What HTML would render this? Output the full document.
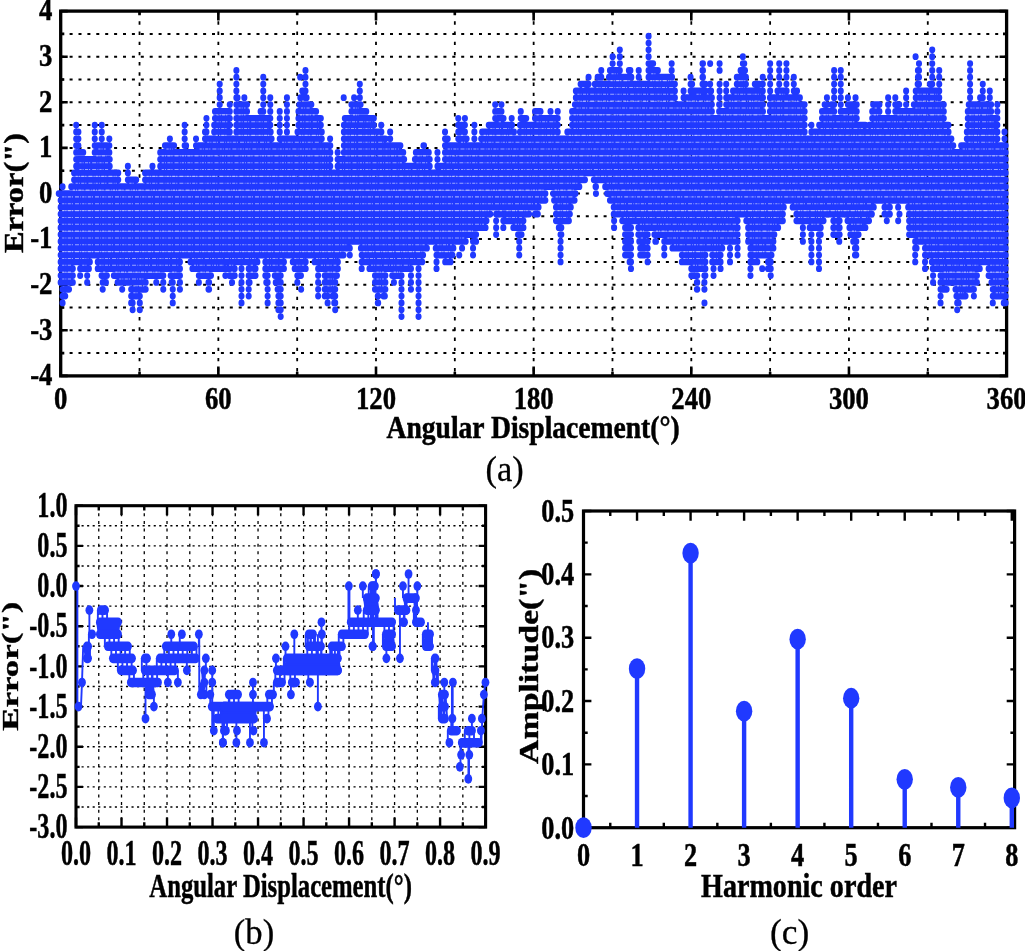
<!DOCTYPE html>
<html lang="en"><head><meta charset="utf-8"><title>Angular error figure</title>
<style>
html,body{margin:0;padding:0;background:#fff}
body{width:1025px;height:951px;overflow:hidden}
svg{display:block}
text{font-family:"Liberation Serif","DejaVu Serif",serif;fill:#000}
.tk,.tkb,.tkc,.tt{stroke:#000;stroke-width:0.5px}
.tk{font-size:31.6px;font-weight:bold}
.tkb{font-size:35px;font-weight:bold}
.tkc{font-size:33.5px;font-weight:bold}
.tt{font-size:31px;font-weight:bold}
.cap{font-size:34px;stroke:#000;stroke-width:0.3px}
</style></head><body>
<svg width="1025" height="951" viewBox="0 0 1025 951">
<rect width="1025" height="951" fill="#fff"/>
<g id="pa">
<path d="M60.7 353.1H1006.6M60.7 330.3H1006.6M60.7 307.5H1006.6M60.7 284.7H1006.6M60.7 261.9H1006.6M60.7 239.1H1006.6M60.7 216.3H1006.6M60.7 193.5H1006.6M60.7 170.7H1006.6M60.7 147.9H1006.6M60.7 125.1H1006.6M60.7 102.3H1006.6M60.7 79.5H1006.6M60.7 56.7H1006.6M60.7 33.9H1006.6" stroke="#000" stroke-width="2" stroke-dasharray="3 5.9" fill="none"/>
<path d="M139.53 11.1V375.9M218.35 11.1V375.9M297.18 11.1V375.9M376 11.1V375.9M454.82 11.1V375.9M533.65 11.1V375.9M612.48 11.1V375.9M691.3 11.1V375.9M770.12 11.1V375.9M848.95 11.1V375.9M927.78 11.1V375.9" stroke="#000" stroke-width="1.8" stroke-dasharray="3.4 6.8" fill="none"/>
<path d="M60.7 375.9h7M1006.6 375.9h-7M60.7 353.1h3.6M1006.6 353.1h-3.6M60.7 330.3h7M1006.6 330.3h-7M60.7 307.5h3.6M1006.6 307.5h-3.6M60.7 284.7h7M1006.6 284.7h-7M60.7 261.9h3.6M1006.6 261.9h-3.6M60.7 239.1h7M1006.6 239.1h-7M60.7 216.3h3.6M1006.6 216.3h-3.6M60.7 193.5h7M1006.6 193.5h-7M60.7 170.7h3.6M1006.6 170.7h-3.6M60.7 147.9h7M1006.6 147.9h-7M60.7 125.1h3.6M1006.6 125.1h-3.6M60.7 102.3h7M1006.6 102.3h-7M60.7 79.5h3.6M1006.6 79.5h-3.6M60.7 56.7h7M1006.6 56.7h-7M60.7 33.9h3.6M1006.6 33.9h-3.6M60.7 11.1h7M1006.6 11.1h-7M60.7 11.1v9.3M60.7 375.9v-9.3M139.53 11.1v4.2M139.53 375.9v-4.2M218.35 11.1v9.3M218.35 375.9v-9.3M297.18 11.1v4.2M297.18 375.9v-4.2M376 11.1v9.3M376 375.9v-9.3M454.82 11.1v4.2M454.82 375.9v-4.2M533.65 11.1v9.3M533.65 375.9v-9.3M612.48 11.1v4.2M612.48 375.9v-4.2M691.3 11.1v9.3M691.3 375.9v-9.3M770.12 11.1v4.2M770.12 375.9v-4.2M848.95 11.1v9.3M848.95 375.9v-9.3M927.78 11.1v4.2M927.78 375.9v-4.2M1006.6 11.1v9.3M1006.6 375.9v-9.3" stroke="#000" stroke-width="2.6" fill="none"/>
<rect x="60.7" y="11.1" width="945.9" height="364.8" fill="none" stroke="#000" stroke-width="3.3"/>
<path transform="scale(0.9 1)" d="M311.87 316.62h0.01M446.11 316.62h0.01M465.04 316.62h0.01M147.34 309.78h0.01M155.33 309.78h0.01M309.35 309.78h0.01M311.87 309.78h0.01M372.44 309.78h0.01M446.11 309.78h0.01M465.04 309.78h0.01M1063.57 309.78h0.01M69.52 302.94h0.01M145.76 302.94h0.01M147.34 302.94h0.01M155.33 302.94h0.01M191.93 302.94h0.01M268.33 302.94h0.01M297.36 302.94h0.01M309.35 302.94h0.01M311.87 302.94h0.01M364.03 302.94h0.01M371.39 302.94h0.01M372.44 302.94h0.01M419.82 302.94h0.36M446.11 302.94h0.01M465.04 302.94h0.01M782.74 302.94h0.01M1045.06 302.94h0.01M1063.57 302.94h0.01M1065.15 302.94h0.01M1103.11 302.94h0.01M1115.31 302.94h2.02M69.52 296.1h0.01M71.84 296.1h0.63M145.76 296.1h0.01M146.5 296.1h7.99M155.33 296.1h0.01M191.93 296.1h0.01M268.33 296.1h0.01M276.33 296.1h0.01M297.36 296.1h0.01M309.35 296.1h0.01M311.87 296.1h0.01M353.51 296.1h0.01M360.87 296.1h0.01M364.03 296.1h0.01M369.5 296.1h1.89M372.44 296.1h0.01M419.76 296.1h0.42M426.07 296.1h0.01M427.6 296.1h0.01M446.11 296.1h0.01M465.04 296.1h0.01M1045.06 296.1h0.01M1062.73 296.1h10.1M1082.08 296.1h0.01M1103.11 296.1h0.01M1104.79 296.1h12.54M69.52 289.26h0.01M71.84 289.26h4.84M114.11 289.26h0.01M135.77 289.26h0.01M145.76 289.26h0.01M146.5 289.26h15.35M181.41 289.26h0.01M191.93 289.26h0.01M199.92 289.26h0.01M231.68 289.26h0.63M268.33 289.26h0.01M276.33 289.26h0.01M297.36 289.26h0.01M308.5 289.26h1.68M311.87 289.26h0.01M334.58 289.26h0.01M353.51 289.26h0.01M360.87 289.26h0.01M362.14 289.26h10.31M416.67 289.26h11.51M446.11 289.26h0.01M456.63 289.26h0.01M465.04 289.26h0.01M774.33 289.26h0.36M782.68 289.26h0.06M1045.06 289.26h0.01M1046.96 289.26h4.84M1061.68 289.26h19.56M1082.08 289.26h0.01M1103.11 289.26h0.01M1104.79 289.26h12.54M67.42 282.42h13.46M96.87 282.42h0.01M114.11 282.42h0.01M116 282.42h1.68M130.73 282.42h31.13M173.63 282.42h0.01M181.41 282.42h0.01M190.67 282.42h0.63M191.93 282.42h0.01M199.92 282.42h0.01M220.95 282.42h0.01M231.68 282.42h0.63M257.82 282.42h0.01M268.33 282.42h0.01M276.33 282.42h0.01M277.27 282.42h0.01M295.89 282.42h0.63M297.36 282.42h0.01M306.4 282.42h4.84M311.87 282.42h0.01M330.38 282.42h0.01M353.51 282.42h0.01M360.87 282.42h0.01M362.14 282.42h10.31M416.67 282.42h11.51M437.7 282.42h0.01M446.11 282.42h0.01M456.63 282.42h0.01M465.04 282.42h0.01M774.33 282.42h0.36M782.68 282.42h0.01M1036.76 282.42h0.01M1045.06 282.42h0.01M1046.96 282.42h38.49M1101.64 282.42h15.69M67.42 275.58h13.46M89.08 275.58h0.01M96.87 275.58h0.01M112.85 275.58h5.89M126.52 275.58h53.21M181.41 275.58h0.01M189.62 275.58h9.04M199.92 275.58h0.01M220.95 275.58h13.46M250.4 275.58h0.01M254.87 275.58h5.89M268.33 275.58h0.01M276.33 275.58h0.01M276.96 275.58h6.94M294.83 275.58h1.68M297.36 275.58h0.01M305.35 275.58h5.89M311.87 275.58h0.01M330.38 275.58h4M353.51 275.58h0.01M360.87 275.58h0.01M362.14 275.58h12.2M416.67 275.58h11.51M435.81 275.58h10.31M456.63 275.58h0.01M465.04 275.58h0.01M768.17 275.58h2.73M772.22 275.58h0.01M774.33 275.58h0.36M782.68 275.58h1.05M792.83 275.58h0.01M833.85 275.58h0.01M856.35 275.58h0.01M1036.76 275.58h0.01M1045.06 275.58h0.01M1046.96 275.58h38.49M1098.48 275.58h18.85M67.42 268.74h13.46M89.08 268.74h0.01M89.71 268.74h9.04M108.64 268.74h91.28M213.8 268.74h36.6M252.77 268.74h7.99M268.33 268.74h0.01M276.33 268.74h0.01M276.96 268.74h6.94M294.83 268.74h20.61M327.43 268.74h12.2M353.51 268.74h0.01M354.77 268.74h20.61M401.89 268.74h0.01M410.51 268.74h46.12M465.04 268.74h0.01M485.02 268.74h0.01M701.08 268.74h0.01M768.17 268.74h15.56M792.83 268.74h0.01M800.62 268.74h0.01M833.85 268.74h0.01M846.89 268.74h0.01M853.41 268.74h2.94M909.98 268.74h0.01M1027.82 268.74h0.01M1036.44 268.74h52.16M1098.48 268.74h18.85M67.42 261.9h32.39M108.64 261.9h91.28M211.7 261.9h74.3M294.83 261.9h20.61M325.33 261.9h14.3M349.52 261.9h25.87M401.89 261.9h0.01M403.15 261.9h65.89M485.02 261.9h0.01M494.69 261.9h5.89M622.84 261.9h0.01M699.6 261.9h0.01M701.08 261.9h0.01M719.58 261.9h0.01M757.65 261.9h26.08M791.36 261.9h9.25M811.13 261.9h0.01M833.85 261.9h0.01M835.53 261.9h5.89M853.41 261.9h2.94M901.57 261.9h0.01M909.98 261.9h0.01M1016.88 261.9h0.01M1027.82 261.9h0.01M1035.39 261.9h81.94M67.42 255.06h314.27M388.64 255.06h0.01M401.89 255.06h68.2M485.02 255.06h0.01M486.28 255.06h16.4M510.26 255.06h0.01M525.61 255.06h0.01M576.93 255.06h0.01M622.84 255.06h0.01M694.56 255.06h5.05M701.08 255.06h0.01M711.38 255.06h4.84M719.58 255.06h0.01M738.09 255.06h0.01M757.65 255.06h26.08M791.36 255.06h9.25M811.13 255.06h0.01M819.54 255.06h0.01M833.85 255.06h0.01M835.53 255.06h21.66M901.57 255.06h0.01M909.98 255.06h0.01M950 255.06h0.01M951.41 255.06h0.01M1016.88 255.06h0.01M1027.82 255.06h89.52M67.42 248.22h320.58M388.64 248.22h0.01M401.04 248.22h73.25M484.18 248.22h19.56M513.41 248.22h0.01M525.61 248.22h0.01M576.93 248.22h0.01M622.84 248.22h0.01M694.56 248.22h5.05M701.08 248.22h0.01M711.38 248.22h4.84M719.58 248.22h0.01M738.09 248.22h0.01M747.14 248.22h55.37M811.13 248.22h0.01M819.54 248.22h0.01M833.85 248.22h0.01M835.53 248.22h23.77M901.57 248.22h0.01M909.98 248.22h0.01M950 248.22h0.01M951.41 248.22h0.01M1016.88 248.22h0.01M1018.35 248.22h0.01M1027.82 248.22h89.52M67.42 241.38h449.99M525.61 241.38h0.01M527.29 241.38h1.68M576.93 241.38h0.01M622.84 241.38h0.01M694.56 241.38h5.05M701.08 241.38h0.01M710.33 241.38h6.94M719.58 241.38h0.01M728.21 241.38h0.63M738.09 241.38h0.01M739.77 241.38h79.77M831.32 241.38h27.97M892.1 241.38h0.01M901.57 241.38h0.01M909.98 241.38h0.01M932.48 241.38h0.01M948.05 241.38h2.73M951.41 241.38h0.01M1016.88 241.38h0.01M1018.35 241.38h98.98M67.42 234.54h461.56M551.27 234.54h0.01M575.67 234.54h3.79M622.84 234.54h0.84M694.56 234.54h5.05M701.08 234.54h0.01M709.28 234.54h9.04M719.58 234.54h0.01M727.16 234.54h92.39M831.32 234.54h29.02M892.1 234.54h0.01M901.57 234.54h0.01M909.98 234.54h0.01M911.24 234.54h0.63M925.96 234.54h6.94M944.89 234.54h9.04M1010.15 234.54h107.18M67.42 227.7h472.07M551.27 227.7h0.01M559.26 227.7h0.01M570.41 227.7h11.15M620.94 227.7h2.73M682.36 227.7h0.01M694.56 227.7h5.05M701.08 227.7h0.01M709.28 227.7h110.27M831.32 227.7h33.23M892.1 227.7h0.01M899.68 227.7h12.2M925.96 227.7h6.94M943.84 227.7h17.67M1010.15 227.7h107.18M67.42 220.86h473.12M551.27 220.86h0.01M559.26 220.86h0.01M560.94 220.86h20.61M617.79 220.86h14.3M682.36 220.86h0.01M691.4 220.86h128.14M829.22 220.86h40.59M884.95 220.86h30.08M925.96 220.86h6.94M941.74 220.86h23.82M985.33 220.86h0.01M997.95 220.86h0.01M1010.15 220.86h107.18M67.42 214.02h477.33M551.27 214.02h0.01M553.58 214.02h5.89M560.94 214.02h26.92M594.44 214.02h1.89M597.54 214.02h0.01M617.79 214.02h15.35M681.94 214.02h187.87M884.95 214.02h83.77M982.81 214.02h5.89M999.42 214.02h0.01M1010.15 214.02h107.18M67.42 207.18h530.96M617.79 207.18h16.4M681.94 207.18h188.92M880.75 207.18h90.08M982.81 207.18h5.89M997.95 207.18h0.01M1009.1 207.18h108.23M67.42 200.34h538.53M615.69 200.34h22.71M677.73 200.34h439.6M65.32 193.5h540.64M614.63 193.5h24.82M662.17 193.5h0.01M674.58 193.5h442.76M69.52 186.66h0.01M79.2 186.66h564.46M661.75 186.66h0.42M672.47 186.66h444.86M82.35 179.82h49M142.08 179.82h9.25M161.22 179.82h488.75M659.85 179.82h457.48M82.35 172.98h49M142.08 172.98h0.01M161.22 172.98h956.11M84.67 166.14h0.01M86.56 166.14h35.33M142.08 166.14h0.01M169.42 166.14h0.01M178.05 166.14h188.92M375.18 166.14h0.01M375.81 166.14h101.64M486.07 166.14h0.01M488.39 166.14h628.95M84.67 159.3h0.01M86.56 159.3h35.33M178.05 159.3h188.92M375.18 159.3h0.01M375.81 159.3h73.25M461.04 159.3h16.4M486.07 159.3h0.01M494.48 159.3h622.85M84.67 152.46h0.01M86.98 152.46h5.47M105.28 152.46h14.51M121.47 152.46h0.01M178.05 152.46h188.92M375.18 152.46h0.01M382.12 152.46h65.89M462.1 152.46h14.3M486.07 152.46h0.01M494.48 152.46h622.85M84.67 145.62h0.01M87.09 145.62h0.01M105.28 145.62h0.01M107.59 145.62h11.57M121.47 145.62h0.01M183.31 145.62h10.1M205.18 145.62h0.01M206.76 145.62h0.01M217.8 145.62h0.01M220.11 145.62h146.86M382.12 145.62h62.73M470.51 145.62h0.63M494.48 145.62h0.01M495.75 145.62h563.41M1067.99 145.62h49.34M84.67 138.78h0.01M87.09 138.78h0.01M105.28 138.78h0.01M113.06 138.78h0.01M121.47 138.78h0.01M188.77 138.78h0.01M205.18 138.78h0.01M217.8 138.78h0.01M227.79 138.78h0.01M228.52 138.78h73.25M310.82 138.78h0.01M311.66 138.78h45.85M366.76 138.78h0.01M382.12 138.78h46.06M433.49 138.78h0.01M494.48 138.78h0.01M495.75 138.78h1.68M509.21 138.78h0.01M510.47 138.78h7.99M527.08 138.78h0.01M534.66 138.78h522.4M1074.3 138.78h33.23M1108.16 138.78h0.01M1116.15 138.78h0.01M84.67 131.94h0.01M87.09 131.94h0.01M105.28 131.94h0.01M113.06 131.94h0.01M205.18 131.94h0.01M227.79 131.94h0.01M229.37 131.94h0.01M237.99 131.94h16.67M255.29 131.94h0.01M262.65 131.94h0.01M263.29 131.94h37.44M310.82 131.94h0.01M318.81 131.94h0.01M330.59 131.94h26.92M382.12 131.94h41.64M433.49 131.94h0.01M494.48 131.94h0.01M509.21 131.94h0.01M510.47 131.94h6.1M527.08 131.94h0.01M535.71 131.94h35.33M577.77 131.94h41.91M630.41 131.94h263.59M901.57 131.94h152.33M1074.3 131.94h33.23M1108.16 131.94h0.01M1116.15 131.94h0.01M84.67 125.1h0.01M105.28 125.1h0.01M113.06 125.1h0.01M205.18 125.1h0.01M229.37 125.1h0.01M237.99 125.1h16.67M255.29 125.1h0.01M262.65 125.1h0.01M263.29 125.1h36.39M300.3 125.1h0.01M310.82 125.1h0.01M318.81 125.1h0.01M331.64 125.1h24.82M382.12 125.1h33.23M423.55 125.1h0.06M509.21 125.1h0.01M510.47 125.1h4.84M516.57 125.1h0.01M527.08 125.1h0.01M543.07 125.1h25.87M577.77 125.1h41.91M635.67 125.1h258.33M901.57 125.1h0.01M910.19 125.1h51.32M965.98 125.1h87.91M1075.35 125.1h31.13M1108.16 125.1h0.01M229.37 118.26h0.01M238.89 118.26h15.77M255.29 118.26h0.01M262.65 118.26h0.01M263.29 118.26h36.39M300.3 118.26h0.01M310.82 118.26h0.01M318.81 118.26h0.01M331.64 118.26h24.82M383.17 118.26h32.18M509.21 118.26h0.01M516.57 118.26h0.01M550.22 118.26h0.01M552.53 118.26h6.94M568.52 118.26h0.01M578.61 118.26h0.01M579.87 118.26h4.84M594.44 118.26h25.24M635.67 118.26h258.33M913.35 118.26h38.55M969.14 118.26h79.5M1075.35 118.26h31.13M1108.16 118.26h0.01M238.89 111.42h15.56M255.29 111.42h0.01M262.65 111.42h0.01M263.29 111.42h11.15M289.58 111.42h2.94M300.3 111.42h0.01M310.82 111.42h0.01M318.81 111.42h0.01M331.64 111.42h19.56M390.53 111.42h10.1M402.1 111.42h4.84M550.22 111.42h0.01M552.53 111.42h2.73M557.16 111.42h0.01M578.61 111.42h0.01M594.44 111.42h6.1M611.69 111.42h0.01M619.68 111.42h0.01M635.67 111.42h155.27M799.04 111.42h48.69M855.51 111.42h38.49M913.35 111.42h13.46M934.17 111.42h0.01M935.43 111.42h16.46M969.14 111.42h7.99M986.81 111.42h0.01M994.8 111.42h0.01M995.43 111.42h53.21M1075.35 111.42h25.87M1108.16 111.42h0.01M244.09 104.58h0.06M255.29 104.58h0.01M262.65 104.58h0.01M263.29 104.58h11.15M292.52 104.58h0.01M300.3 104.58h0.01M318.81 104.58h0.01M332.69 104.58h13.25M390.53 104.58h10.1M550.22 104.58h0.01M557.16 104.58h0.01M638.82 104.58h152.12M799.04 104.58h0.53M806.92 104.58h0.01M808.19 104.58h39.54M855.51 104.58h38.49M916.29 104.58h0.01M918.81 104.58h0.01M923.86 104.58h2.94M934.17 104.58h0.01M942.16 104.58h0.01M943.84 104.58h4.84M950 104.58h1.89M970.19 104.58h6.94M986.81 104.58h0.01M994.8 104.58h0.01M995.43 104.58h3.79M1006.79 104.58h0.01M1015.41 104.58h33.23M1076.4 104.58h24.82M1108.16 104.58h0.01M244.09 97.74h0.06M262.65 97.74h0.01M263.92 97.74h0.01M271.49 97.74h0.01M292.52 97.74h0.01M300.3 97.74h0.01M318.81 97.74h0.01M333.74 97.74h6.94M381.91 97.74h0.01M393.47 97.74h0.01M399.78 97.74h0.01M639.87 97.74h110M759.54 97.74h0.01M760.81 97.74h30.13M799.56 97.74h0.01M806.92 97.74h0.01M808.19 97.74h39.54M855.51 97.74h33.23M918.81 97.74h0.01M926.81 97.74h0.01M934.17 97.74h0.01M942.16 97.74h0.01M950.57 97.74h0.06M986.81 97.74h0.01M994.8 97.74h0.01M1006.79 97.74h0.01M1017.51 97.74h26.08M1077.87 97.74h0.01M1089.02 97.74h1.68M1091.96 97.74h0.01M1099.75 97.74h0.01M244.09 90.9h0.06M262.65 90.9h0.01M292.52 90.9h0.01M335.85 90.9h1.68M339.42 90.9h0.01M399.78 90.9h0.01M639.87 90.9h110M759.54 90.9h0.01M767.33 90.9h0.01M769.01 90.9h1.89M772.22 90.9h8.83M781.84 90.9h1.89M789.05 90.9h0.01M790.1 90.9h0.01M799.56 90.9h0.01M806.92 90.9h0.01M814.5 90.9h32.18M847.52 90.9h0.01M855.72 90.9h0.01M863.92 90.9h10.1M882.01 90.9h0.01M882.85 90.9h2.73M926.81 90.9h0.01M934.17 90.9h0.01M1006.79 90.9h0.01M1017.51 90.9h26.08M1077.87 90.9h0.01M1091.96 90.9h0.01M1099.75 90.9h0.01M244.09 84.06h0.06M262.65 84.06h0.01M292.52 84.06h0.01M339.42 84.06h0.01M399.78 84.06h0.01M645.13 84.06h6.94M653.96 84.06h0.01M660.9 84.06h88.96M767.33 84.06h0.01M769.01 84.06h0.01M780.58 84.06h0.48M781.84 84.06h1.89M789.05 84.06h0.01M799.56 84.06h0.01M806.92 84.06h0.01M818.7 84.06h10.1M838.68 84.06h4.84M847.52 84.06h0.01M855.72 84.06h0.01M865.81 84.06h0.01M873.81 84.06h0.01M882.01 84.06h0.01M926.81 84.06h0.01M934.17 84.06h0.01M1019.62 84.06h0.63M1021.09 84.06h0.01M1033.29 84.06h0.63M1035.81 84.06h0.01M1043.59 84.06h0.01M1077.87 84.06h0.01M1091.96 84.06h0.01M262.65 77.22h0.01M292.52 77.22h0.01M333.53 77.22h0.01M339.42 77.22h0.01M653.96 77.22h0.01M664.06 77.22h2.73M668.06 77.22h0.01M676.68 77.22h24.82M709.7 77.22h0.01M720.64 77.22h26.08M767.33 77.22h0.01M780.58 77.22h0.48M818.7 77.22h10.1M847.52 77.22h0.01M855.72 77.22h0.01M865.81 77.22h0.01M873.81 77.22h0.01M882.01 77.22h0.01M926.81 77.22h0.01M934.17 77.22h0.01M1019.93 77.22h0.01M1021.09 77.22h0.01M1035.81 77.22h0.01M1043.59 77.22h0.01M1077.87 77.22h0.01M262.65 70.38h0.01M339.42 70.38h0.01M668.06 70.38h0.01M677.73 70.38h10.1M688.67 70.38h0.01M698.76 70.38h1.68M709.7 70.38h0.01M720.64 70.38h0.01M721.9 70.38h9.04M746.29 70.38h0.01M780.58 70.38h0.48M799.56 70.38h0.01M822.91 70.38h4.84M855.72 70.38h0.01M865.81 70.38h0.01M873.81 70.38h0.01M926.81 70.38h0.01M934.17 70.38h0.01M1019.93 70.38h0.01M1021.09 70.38h0.01M1035.81 70.38h0.01M1043.59 70.38h0.01M1077.87 70.38h0.01M680.67 63.54h0.01M688.67 63.54h0.01M720.64 63.54h0.01M721.9 63.54h3.79M746.29 63.54h0.01M780.58 63.54h0.48M789.05 63.54h0.01M799.56 63.54h0.01M825.43 63.54h0.01M826.9 63.54h0.01M855.72 63.54h0.01M865.81 63.54h0.01M873.81 63.54h0.01M1021.09 63.54h0.01M1035.81 63.54h0.01M1077.87 63.54h0.01M680.67 56.7h0.01M688.67 56.7h0.01M720.64 56.7h0.01M825.43 56.7h0.01M1017.3 56.7h0.01M1035.81 56.7h0.01M688.67 49.86h0.01M720.64 49.86h0.01M1035.81 49.86h0.01M720.64 43.02h0.01M720.64 36.18h0.01" stroke="#2039ff" stroke-width="6.75" stroke-linecap="round" fill="none"/>
<path d="M133.35 292.68H137.54M957.96 292.68H964.04M995.81 292.68H1004.1M133.35 285.84H144.17M327.42 285.84H333.7M376.5 285.84H383.86M957.01 285.84H971.61M995.81 285.84H1004.1M62.18 279H71.29M119.15 279H144.17M327.42 279H333.7M376.5 279H383.86M943.76 279H975.4M992.98 279H1004.1M62.18 272.16H71.29M103.06 272.16H105.36M115.37 272.16H160.26M172.15 272.16H177.29M200.36 272.16H209.47M230.89 272.16H233.19M250.76 272.16H254.01M276.31 272.16H278.61M327.42 272.16H335.4M376.5 272.16H383.86M393.73 272.16H400M943.76 272.16H975.4M990.14 272.16H1004.1M62.18 265.32H71.29M82.24 265.32H87.38M99.28 265.32H178.43M193.92 265.32H223.86M228.99 265.32H233.19M250.76 265.32H254.01M266.85 265.32H282.4M296.19 265.32H304.17M320.8 265.32H336.35M370.96 265.32H409.46M692.85 265.32H703.86M934.3 265.32H978.24M990.14 265.32H1004.1M62.18 258.48H88.33M99.28 258.48H178.43M192.03 258.48H255.9M266.85 258.48H282.4M294.3 258.48H304.17M316.06 258.48H336.35M364.33 258.48H420.63M446.73 258.48H449.03M683.39 258.48H703.86M713.73 258.48H719.05M753.48 258.48H755.78M933.35 258.48H1004.1M62.18 251.64H342.03M363.2 251.64H421.58M439.15 251.64H450.92M683.39 251.64H703.86M713.73 251.64H719.05M753.48 251.64H769.97M926.54 251.64H1004.1M62.18 244.8H347.7M362.44 244.8H425.36M437.26 244.8H451.86M673.92 244.8H720.76M753.48 244.8H771.86M926.54 244.8H1004.1M62.18 237.96H464.17M640.8 237.96H644.04M667.3 237.96H736.09M749.69 237.96H771.86M918.02 237.96H1004.1M62.18 231.12H474.58M639.85 231.12H644.99M655.94 231.12H736.09M749.69 231.12H772.81M834.87 231.12H838.11M851.9 231.12H857.04M910.64 231.12H1004.1M62.18 224.28H484.04M514.87 224.28H521.9M639.85 224.28H736.09M749.69 224.28H776.6M811.21 224.28H819.19M834.87 224.28H838.11M850.96 224.28H863.86M910.64 224.28H1004.1M62.18 217.44H484.99M506.35 217.44H521.9M557.51 217.44H567.38M623.76 217.44H736.09M747.8 217.44H781.33M797.96 217.44H822.03M834.87 217.44H838.11M849.06 217.44H867.51M910.64 217.44H1004.1M62.18 210.6H488.78M499.73 210.6H502.03M506.35 210.6H527.58M557.51 210.6H568.33M615.24 210.6H781.33M797.96 210.6H870.35M886.03 210.6H888.33M910.64 210.6H1004.1M62.18 203.76H537.04M557.51 203.76H569.28M615.24 203.76H782.28M794.17 203.76H872.24M886.03 203.76H888.33M909.69 203.76H1004.1M62.18 196.92H543.86M555.62 196.92H573.06M611.46 196.92H1004.1M72.78 190.08H543.86M554.67 190.08H574.01M608.62 190.08H1004.1M75.62 183.24H116.72M129.38 183.24H134.7M146.6 183.24H577.79M606.73 183.24H1004.1M75.62 176.4H116.72M146.6 176.4H583.47M595.37 176.4H1004.1M79.4 169.56H108.2M161.74 169.56H328.78M339.73 169.56H428.2M441.05 169.56H1004.1M79.4 162.72H108.2M161.74 162.72H328.78M339.73 162.72H402.65M416.44 162.72H428.2M446.54 162.72H1004.1M96.25 155.88H106.31M161.74 155.88H328.78M345.4 155.88H401.7M417.39 155.88H427.26M446.54 155.88H1004.1M98.33 149.04H105.74M166.48 149.04H172.56M199.6 149.04H328.78M345.4 149.04H398.86M447.67 149.04H951.74M962.69 149.04H1004.1M207.17 142.2H270.1M281.99 142.2H320.26M345.4 142.2H383.86M460.92 142.2H465.11M482.69 142.2H949.85M968.37 142.2H995.28M215.69 135.36H227.7M238.46 135.36H269.15M299.03 135.36H320.26M345.4 135.36H379.88M460.92 135.36H463.41M483.64 135.36H512.44M521.49 135.36H556.21M568.87 135.36H803.1M812.91 135.36H947.01M968.37 135.36H995.28M215.69 128.52H227.7M238.46 128.52H268.2M299.98 128.52H319.31M345.4 128.52H372.31M490.26 128.52H510.54M521.49 128.52H556.21M573.6 128.52H803.1M820.67 128.52H863.86M870.89 128.52H947.01M969.31 128.52H994.33M216.5 121.68H227.7M238.46 121.68H268.2M299.98 121.68H319.31M346.35 121.68H372.31M498.78 121.68H502.03M536.5 121.68H556.21M573.6 121.68H803.1M823.51 121.68H855.2M873.73 121.68H942.28M969.31 121.68H994.33M216.5 114.84H227.51M238.46 114.84H245.49M299.98 114.84H314.58M352.98 114.84H359.06M536.5 114.84H538.99M573.6 114.84H710.35M720.63 114.84H761.45M771.46 114.84H803.1M823.51 114.84H832.63M843.39 114.84H855.2M873.73 114.84H877.92M897.39 114.84H942.28M969.31 114.84H989.6M238.46 108H245.49M300.92 108H309.85M352.98 108H359.06M576.44 108H710.35M728.87 108H761.45M771.46 108H803.1M874.67 108H877.92M915.37 108H942.28M970.26 108H989.6M301.87 101.16H305.11M577.39 101.16H673.38M686.23 101.16H710.35M728.87 101.16H761.45M771.46 101.16H798.36M917.26 101.16H937.73M577.39 94.32H673.38M696.5 94.32H701.45M734.55 94.32H760.51M779.03 94.32H785.11M917.26 94.32H937.73M582.12 87.48H585.36M596.31 87.48H673.38M738.33 87.48H744.42M610.51 80.64H629.85M650.07 80.64H670.54M738.33 80.64H744.42M611.46 73.8H617.54M651.21 73.8H656.35" stroke="#fff" stroke-opacity="0.55" stroke-width="1.1" stroke-dasharray="2.2 1 1 1.4 3.1 0.9 1.2 2 4 1.3 0.8 1.1" fill="none"/>
<text class="tk" text-anchor="end" transform="translate(52.4 385.1) scale(0.845 1)">-4</text>
<text class="tk" text-anchor="end" transform="translate(52.4 339.5) scale(0.845 1)">-3</text>
<text class="tk" text-anchor="end" transform="translate(52.4 293.9) scale(0.845 1)">-2</text>
<text class="tk" text-anchor="end" transform="translate(52.4 248.3) scale(0.845 1)">-1</text>
<text class="tk" text-anchor="end" transform="translate(52.4 202.7) scale(0.845 1)">0</text>
<text class="tk" text-anchor="end" transform="translate(52.4 157.1) scale(0.845 1)">1</text>
<text class="tk" text-anchor="end" transform="translate(52.4 111.5) scale(0.845 1)">2</text>
<text class="tk" text-anchor="end" transform="translate(52.4 65.9) scale(0.845 1)">3</text>
<text class="tk" text-anchor="end" transform="translate(52.4 20.3) scale(0.845 1)">4</text>
<text class="tk" text-anchor="middle" transform="translate(60.7 409) scale(0.845 1)">0</text>
<text class="tk" text-anchor="middle" transform="translate(218.35 409) scale(0.845 1)">60</text>
<text class="tk" text-anchor="middle" transform="translate(376 409) scale(0.845 1)">120</text>
<text class="tk" text-anchor="middle" transform="translate(533.65 409) scale(0.845 1)">180</text>
<text class="tk" text-anchor="middle" transform="translate(691.3 409) scale(0.845 1)">240</text>
<text class="tk" text-anchor="middle" transform="translate(848.95 409) scale(0.845 1)">300</text>
<text class="tk" text-anchor="middle" transform="translate(1006.6 409) scale(0.845 1)">360</text>
<text class="tt" text-anchor="middle" transform="translate(533.1 437.9) scale(0.89 1)">Angular Displacement(°)</text>
<text class="tt" style="font-size:32.4px" text-anchor="middle" transform="translate(23 193) scale(0.823 1) rotate(-90)">Error(&quot;)</text>
<text class="cap" style="font-size:35.5px" text-anchor="middle" transform="translate(504.7 481.2) scale(0.97 1)">(a)</text>
</g>
<g id="pb">
<path d="M76 807.01H485.6M76 786.92H485.6M76 766.84H485.6M76 746.75H485.6M76 726.66H485.6M76 706.58H485.6M76 686.49H485.6M76 666.4H485.6M76 646.31H485.6M76 626.23H485.6M76 606.14H485.6M76 586.05H485.6M76 565.96H485.6M76 545.88H485.6M76 525.79H485.6" stroke="#000" stroke-width="1.4" stroke-dasharray="2.1 3.45" fill="none"/>
<path d="M98.76 505.7V827.1M121.51 505.7V827.1M144.27 505.7V827.1M167.02 505.7V827.1M189.78 505.7V827.1M212.53 505.7V827.1M235.29 505.7V827.1M258.04 505.7V827.1M280.8 505.7V827.1M303.56 505.7V827.1M326.31 505.7V827.1M349.07 505.7V827.1M371.82 505.7V827.1M394.58 505.7V827.1M417.33 505.7V827.1M440.09 505.7V827.1M462.84 505.7V827.1" stroke="#000" stroke-width="1.3" stroke-dasharray="3 4.6" fill="none"/>
<path d="M76 827.1h7M485.6 827.1h-7M76 807.01h3.6M485.6 807.01h-3.6M76 786.92h7M485.6 786.92h-7M76 766.84h3.6M485.6 766.84h-3.6M76 746.75h7M485.6 746.75h-7M76 726.66h3.6M485.6 726.66h-3.6M76 706.58h7M485.6 706.58h-7M76 686.49h3.6M485.6 686.49h-3.6M76 666.4h7M485.6 666.4h-7M76 646.31h3.6M485.6 646.31h-3.6M76 626.23h7M485.6 626.23h-7M76 606.14h3.6M485.6 606.14h-3.6M76 586.05h7M485.6 586.05h-7M76 565.96h3.6M485.6 565.96h-3.6M76 545.88h7M485.6 545.88h-7M76 525.79h3.6M485.6 525.79h-3.6M76 505.7h7M485.6 505.7h-7M76 505.7v9.6M76 827.1v-9.6M98.76 505.7v4.8M98.76 827.1v-4.8M121.51 505.7v9.6M121.51 827.1v-9.6M144.27 505.7v4.8M144.27 827.1v-4.8M167.02 505.7v9.6M167.02 827.1v-9.6M189.78 505.7v4.8M189.78 827.1v-4.8M212.53 505.7v9.6M212.53 827.1v-9.6M235.29 505.7v4.8M235.29 827.1v-4.8M258.04 505.7v9.6M258.04 827.1v-9.6M280.8 505.7v4.8M280.8 827.1v-4.8M303.56 505.7v9.6M303.56 827.1v-9.6M326.31 505.7v4.8M326.31 827.1v-4.8M349.07 505.7v9.6M349.07 827.1v-9.6M371.82 505.7v4.8M371.82 827.1v-4.8M394.58 505.7v9.6M394.58 827.1v-9.6M417.33 505.7v4.8M417.33 827.1v-4.8M440.09 505.7v9.6M440.09 827.1v-9.6M462.84 505.7v4.8M462.84 827.1v-4.8M485.6 505.7v9.6M485.6 827.1v-9.6" stroke="#000" stroke-width="2.4" fill="none"/>
<rect x="76" y="505.7" width="409.6" height="321.4" fill="none" stroke="#000" stroke-width="3.1"/>
<path d="M77.39 586.05V706.58M80.99 706.58L81.99 682.47L83.18 646.31M84.18 646.31L85.78 658.37L87.38 646.31L88.98 658.37L90.58 646.31M89.38 610.15V634.26M97.17 622.21L98.77 634.26L100.37 622.21L101.97 634.26L103.57 622.21L105.17 634.26L106.77 622.21L108.37 634.26L109.97 622.21L111.57 634.26L113.17 622.21L114.77 634.26L116.37 622.21L117.97 634.26L119.57 622.21M146.11 682.47L147.71 694.52L149.31 682.47L150.91 694.52L152.51 682.47L154.11 694.52M145.51 682.47V718.63M153.9 694.52V706.58M199.24 634.26V694.52M202.04 670.42L203.64 694.52L205.24 670.42M212.23 670.42V730.68M348.45 586.05V622.21M349.44 586.05V622.21M364.03 598.1L365.63 610.15L367.23 598.1L368.83 610.15L370.43 598.1L372.03 610.15L373.63 598.1L375.23 610.15L376.83 598.1L378.43 610.15M373.82 622.21V646.31M321.48 622.21V658.37M294.31 634.26V658.37M284.12 658.37L285.72 670.42L287.32 658.37L288.92 670.42L290.52 658.37L292.12 670.42L293.72 658.37L295.32 670.42L296.92 658.37L298.52 670.42L300.12 658.37L301.72 670.42L303.32 658.37L304.92 670.42L306.52 658.37L308.12 670.42L309.72 658.37L311.32 670.42L312.92 658.37L314.52 670.42L316.12 658.37L317.72 670.42L319.32 658.37L320.92 670.42L322.52 658.37L324.12 670.42L325.72 658.37L327.32 670.42L328.92 658.37L330.52 670.42L332.12 658.37L333.72 670.42L335.32 658.37L336.92 670.42L338.52 658.37L340.12 670.42M252.96 682.47V706.58M317.88 634.26V706.58M221.2 706.58L222.8 718.63L224.4 706.58L226 718.63L227.6 706.58L229.2 718.63L230.8 706.58L232.4 718.63L234 706.58L235.6 718.63L237.2 706.58L238.8 718.63L240.4 706.58L242 718.63L243.6 706.58L245.2 718.63L246.8 706.58L248.4 718.63L250 706.58L251.6 718.63L253.2 706.58L254.8 718.63L256.4 706.58M263.95 718.63V742.73M223 718.63V742.73M236.38 718.63V742.73M249.96 718.63V742.73M307.89 634.26V646.31M310.89 634.26V646.31M313.89 634.26V646.31M331.87 646.31V658.37M337.86 646.31V658.37M408.55 574V598.1M371.2 586.05L372.8 622.21L374.4 586.05L376 622.21M414.15 598.1L415.75 622.21L417.35 598.1M404.16 598.1L405.76 610.15L407.36 598.1M373 622.21V646.31M383.19 634.26L384.79 646.31L386.39 634.26L387.99 646.31L389.59 634.26L391.19 646.31L392.79 634.26L394.39 646.31M399.96 622.21V658.37M386.38 646.31V658.37M423.14 634.26L424.74 646.31L426.34 634.26L427.94 646.31L429.54 634.26L431.14 646.31M432.13 658.37L433.73 682.47L435.33 658.37L436.93 682.47M439.12 694.52L440.72 718.63L442.32 694.52L443.92 718.63L445.52 694.52L447.12 718.63M451.9 682.47V730.68M452.7 682.47V730.68M485.46 682.47L483.86 694.52L482.27 718.63L481.27 742.73M394.97 598.1V610.15M427.93 622.21V634.26M460.47 742.73V766.84M468.42 742.73V778.89M469.05 742.73V778.89M461.1 742.73V754.79M469.31 742.73V754.79M461.1 742.73V754.79M469.31 742.73V754.79M222.82 730.68V742.73M223 730.68V742.73M222.82 730.68V742.73M223 730.68V742.73M236.38 730.68V742.73M249.96 730.68V742.73M447.81 730.68V742.73M464.79 730.68V742.73M469.39 730.68V742.73M473.99 730.68V742.73M464.79 730.68V742.73M469.39 730.68V742.73M480.87 730.68V742.73M213.83 718.63V730.68M224.22 718.63V730.68M222.4 718.63V730.68M227 718.63V730.68M224.22 718.63V730.68M222.4 718.63V730.68M227 718.63V730.68M236.38 718.63V730.68M252.36 718.63V730.68M451.31 718.63V730.68M471.88 718.63V730.68M213.73 706.58V718.63M218.33 706.58V718.63M222.93 706.58V718.63M227.53 706.58V718.63M220.9 706.58V718.63M225.5 706.58V718.63M220.9 706.58V718.63M225.5 706.58V718.63M220.9 706.58V718.63M225.5 706.58V718.63M230.1 706.58V718.63M234.7 706.58V718.63M239.3 706.58V718.63M243.9 706.58V718.63M248.5 706.58V718.63M253.1 706.58V718.63M263.85 706.58V718.63M268.45 706.58V718.63M220.9 706.58V718.63M225.5 706.58V718.63M220.9 706.58V718.63M225.5 706.58V718.63M230.1 706.58V718.63M234.7 706.58V718.63M239.3 706.58V718.63M243.9 706.58V718.63M248.5 706.58V718.63M253.1 706.58V718.63M438.82 706.58V718.63M443.42 706.58V718.63M153.9 694.52V706.58M210.23 694.52V706.58M228.81 694.52V706.58M228.81 694.52V706.58M228.81 694.52V706.58M229.39 694.52V706.58M233.99 694.52V706.58M238.59 694.52V706.58M229.39 694.52V706.58M233.99 694.52V706.58M238.59 694.52V706.58M252.96 694.52V706.58M252.96 694.52V706.58M267.35 694.52V706.58M271.95 694.52V706.58M440.32 694.52V706.58M444.92 694.52V706.58M145.81 682.47V694.52M150.41 682.47V694.52M145.81 682.47V694.52M150.41 682.47V694.52M201.74 682.47V694.52M206.34 682.47V694.52M200.84 682.47V694.52M212.23 682.47V694.52M273.84 682.47V694.52M290.91 682.47V694.52M444.31 682.47V694.52M129.33 670.42V682.47M133.93 670.42V682.47M143.31 670.42V682.47M147.91 670.42V682.47M152.51 670.42V682.47M157.11 670.42V682.47M147.31 670.42V682.47M151.91 670.42V682.47M167.88 670.42V682.47M177.87 670.42V682.47M203.24 670.42V682.47M290.32 670.42V682.47M294.92 670.42V682.47M308.3 670.42V682.47M275.34 670.42V682.47M279.94 670.42V682.47M284.54 670.42V682.47M290.32 670.42V682.47M294.92 670.42V682.47M308.3 670.42V682.47M433.33 670.42V682.47M437.93 670.42V682.47M117.84 658.37V670.42M122.44 658.37V670.42M127.04 658.37V670.42M131.64 658.37V670.42M141.81 658.37V670.42M146.41 658.37V670.42M156.8 658.37V670.42M161.4 658.37V670.42M166 658.37V670.42M170.6 658.37V670.42M175.2 658.37V670.42M186.86 658.37V670.42M205.84 658.37V670.42M275.93 658.37V670.42M283.82 658.37V670.42M288.42 658.37V670.42M293.02 658.37V670.42M297.62 658.37V670.42M302.22 658.37V670.42M306.82 658.37V670.42M311.42 658.37V670.42M316.02 658.37V670.42M320.62 658.37V670.42M325.22 658.37V670.42M329.82 658.37V670.42M334.42 658.37V670.42M339.02 658.37V670.42M283.82 658.37V670.42M288.42 658.37V670.42M293.02 658.37V670.42M297.62 658.37V670.42M302.22 658.37V670.42M306.82 658.37V670.42M311.42 658.37V670.42M316.02 658.37V670.42M320.62 658.37V670.42M325.22 658.37V670.42M329.82 658.37V670.42M334.42 658.37V670.42M339.02 658.37V670.42M431.83 658.37V670.42M436.43 658.37V670.42M85.38 646.31V658.37M89.98 646.31V658.37M111.35 646.31V658.37M115.95 646.31V658.37M120.55 646.31V658.37M125.15 646.31V658.37M129.75 646.31V658.37M164.29 646.31V658.37M168.89 646.31V658.37M173.49 646.31V658.37M178.09 646.31V658.37M182.69 646.31V658.37M187.29 646.31V658.37M191.89 646.31V658.37M196.49 646.31V658.37M285.52 646.31V658.37M307.3 646.31V658.37M311.9 646.31V658.37M316.5 646.31V658.37M321.1 646.31V658.37M330.27 646.31V658.37M334.87 646.31V658.37M339.47 646.31V658.37M386.38 646.31V658.37M104.86 634.26V646.31M109.46 634.26V646.31M114.06 634.26V646.31M118.66 634.26V646.31M88.88 634.26V646.31M171.28 634.26V646.31M179.77 634.26V646.31M198.85 634.26V646.31M305.8 634.26V646.31M310.4 634.26V646.31M315 634.26V646.31M321.88 634.26V646.31M338.76 634.26V646.31M343.36 634.26V646.31M382.89 634.26V646.31M387.49 634.26V646.31M392.09 634.26V646.31M422.84 634.26V646.31M427.44 634.26V646.31M432.04 634.26V646.31M98.37 622.21V634.26M102.97 622.21V634.26M107.57 622.21V634.26M112.17 622.21V634.26M116.77 622.21V634.26M349.25 622.21V634.26M353.85 622.21V634.26M358.45 622.21V634.26M363.05 622.21V634.26M367.65 622.21V634.26M384.39 622.21V634.26M388.99 622.21V634.26M393.59 622.21V634.26M97.87 610.15V622.21M102.47 610.15V622.21M107.07 610.15V622.21M363.73 610.15V622.21M368.33 610.15V622.21M372.93 610.15V622.21M377.53 610.15V622.21M370.9 610.15V622.21M375.5 610.15V622.21M370.9 610.15V622.21M375.5 610.15V622.21M357.83 610.15V622.21M370.9 610.15V622.21M375.5 610.15V622.21M370.9 610.15V622.21M375.5 610.15V622.21M370.9 610.15V622.21M375.5 610.15V622.21M399.87 610.15V622.21M404.47 610.15V622.21M413.85 610.15V622.21M413.85 610.15V622.21M403.86 610.15V622.21M365.23 598.1V610.15M369.83 598.1V610.15M374.43 598.1V610.15M372.4 598.1V610.15M372.4 598.1V610.15M372.4 598.1V610.15M406.36 598.1V610.15M415.35 598.1V610.15M406.36 598.1V610.15M415.35 598.1V610.15M405.36 598.1V610.15M405.36 598.1V610.15M362.83 586.05V598.1M368.72 586.05V598.1M373.32 586.05V598.1M370.9 586.05V598.1M375.5 586.05V598.1M370.9 586.05V598.1M375.5 586.05V598.1M370.9 586.05V598.1M375.5 586.05V598.1M402.96 586.05V598.1M402.96 586.05V598.1M417.34 586.05V598.1M417.34 586.05V598.1M375.81 574V586.05M375.81 574V586.05M375.99 574V586.05M375.99 574V586.05" stroke="#2039ff" stroke-width="1.9" fill="none" stroke-linejoin="round"/>
<g fill="#2039ff"><ellipse cx="75.99" cy="586.05" rx="3.9" ry="4.8"/><rect x="74.59" y="701.78" width="7.8" height="9.6" rx="3.9" ry="4.8"/><ellipse cx="81.99" cy="682.47" rx="3.9" ry="4.8"/><rect x="82.98" y="653.57" width="8.99" height="9.6" rx="3.9" ry="4.8"/><rect x="82.98" y="641.51" width="8.99" height="9.6" rx="3.9" ry="4.8"/><ellipse cx="89.38" cy="610.15" rx="3.9" ry="4.8"/><rect x="96.97" y="605.36" width="11.99" height="9.6" rx="3.9" ry="4.8"/><rect x="95.97" y="629.46" width="25.97" height="9.6" rx="3.9" ry="4.8"/><rect x="95.97" y="617.41" width="25.97" height="9.6" rx="3.9" ry="4.8"/><rect x="87.98" y="629.46" width="7.99" height="9.6" rx="3.9" ry="4.8"/><rect x="103.96" y="641.51" width="27.97" height="9.6" rx="3.9" ry="4.8"/><rect x="108.95" y="653.57" width="26.97" height="9.6" rx="3.9" ry="4.8"/><rect x="116.94" y="665.62" width="19.98" height="9.6" rx="3.9" ry="4.8"/><rect x="126.93" y="677.67" width="34.96" height="9.6" rx="3.9" ry="4.8"/><rect x="140.91" y="653.57" width="9.99" height="9.6" rx="3.9" ry="4.8"/><rect x="140.91" y="665.62" width="37.95" height="9.6" rx="3.9" ry="4.8"/><rect x="144.91" y="689.72" width="10.99" height="9.6" rx="3.9" ry="4.8"/><rect x="144.91" y="677.67" width="10.99" height="9.6" rx="3.9" ry="4.8"/><ellipse cx="145.51" cy="718.63" rx="3.9" ry="4.8"/><ellipse cx="153.9" cy="706.58" rx="3.9" ry="4.8"/><rect x="155.9" y="653.57" width="43.95" height="9.6" rx="3.9" ry="4.8"/><rect x="161.89" y="641.51" width="35.96" height="9.6" rx="3.9" ry="4.8"/><ellipse cx="171.28" cy="634.26" rx="3.9" ry="4.8"/><rect x="177.97" y="629.46" width="7.8" height="9.6" rx="3.9" ry="4.8"/><ellipse cx="198.85" cy="634.26" rx="3.9" ry="4.8"/><ellipse cx="167.88" cy="682.47" rx="3.9" ry="4.8"/><ellipse cx="177.87" cy="682.47" rx="3.9" ry="4.8"/><ellipse cx="186.86" cy="670.42" rx="3.9" ry="4.8"/><rect x="200.44" y="689.72" width="7.8" height="9.6" rx="3.9" ry="4.8"/><rect x="200.44" y="677.67" width="7.8" height="9.6" rx="3.9" ry="4.8"/><rect x="200.44" y="665.62" width="7.8" height="9.6" rx="3.9" ry="4.8"/><ellipse cx="205.84" cy="658.37" rx="3.9" ry="4.8"/><ellipse cx="212.23" cy="682.47" rx="3.9" ry="4.8"/><ellipse cx="212.23" cy="670.42" rx="3.9" ry="4.8"/><ellipse cx="200.84" cy="694.52" rx="3.9" ry="4.8"/><rect x="206.43" y="689.72" width="7.8" height="9.6" rx="3.9" ry="4.8"/><rect x="207.83" y="701.78" width="21.97" height="9.6" rx="3.9" ry="4.8"/><rect x="212.83" y="713.83" width="16.98" height="9.6" rx="3.9" ry="4.8"/><ellipse cx="213.83" cy="730.68" rx="3.9" ry="4.8"/><rect x="221.82" y="725.88" width="7.99" height="9.6" rx="3.9" ry="4.8"/><ellipse cx="222.82" cy="742.73" rx="3.9" ry="4.8"/><ellipse cx="228.81" cy="694.52" rx="3.9" ry="4.8"/><ellipse cx="375.81" cy="574" rx="3.9" ry="4.8"/><ellipse cx="348.85" cy="586.05" rx="3.9" ry="4.8"/><ellipse cx="362.83" cy="586.05" rx="3.9" ry="4.8"/><rect x="367.82" y="581.25" width="10.99" height="9.6" rx="3.9" ry="4.8"/><rect x="362.83" y="605.36" width="16.98" height="9.6" rx="3.9" ry="4.8"/><rect x="362.83" y="593.3" width="16.98" height="9.6" rx="3.9" ry="4.8"/><ellipse cx="357.83" cy="610.15" rx="3.9" ry="4.8"/><rect x="346.85" y="617.41" width="32.96" height="9.6" rx="3.9" ry="4.8"/><ellipse cx="372.82" cy="646.31" rx="3.9" ry="4.8"/><ellipse cx="321.48" cy="622.21" rx="3.9" ry="4.8"/><ellipse cx="294.31" cy="634.26" rx="3.9" ry="4.8"/><rect x="304.9" y="629.46" width="11.99" height="9.6" rx="3.9" ry="4.8"/><ellipse cx="321.88" cy="634.26" rx="3.9" ry="4.8"/><rect x="337.86" y="629.46" width="30.96" height="9.6" rx="3.9" ry="4.8"/><ellipse cx="285.52" cy="646.31" rx="3.9" ry="4.8"/><rect x="304.9" y="641.51" width="19.98" height="9.6" rx="3.9" ry="4.8"/><rect x="327.87" y="641.51" width="17.98" height="9.6" rx="3.9" ry="4.8"/><ellipse cx="275.93" cy="658.37" rx="3.9" ry="4.8"/><rect x="282.92" y="665.62" width="58.93" height="9.6" rx="3.9" ry="4.8"/><rect x="282.92" y="653.57" width="58.93" height="9.6" rx="3.9" ry="4.8"/><rect x="272.94" y="665.62" width="68.92" height="9.6" rx="3.9" ry="4.8"/><ellipse cx="252.96" cy="682.47" rx="3.9" ry="4.8"/><rect x="272.94" y="677.67" width="12.98" height="9.6" rx="3.9" ry="4.8"/><rect x="287.92" y="677.67" width="11.99" height="9.6" rx="3.9" ry="4.8"/><rect x="305.9" y="677.67" width="7.99" height="9.6" rx="3.9" ry="4.8"/><rect x="226.99" y="689.72" width="14.98" height="9.6" rx="3.9" ry="4.8"/><ellipse cx="252.96" cy="694.52" rx="3.9" ry="4.8"/><rect x="264.95" y="689.72" width="11.99" height="9.6" rx="3.9" ry="4.8"/><ellipse cx="290.91" cy="694.52" rx="3.9" ry="4.8"/><rect x="220" y="701.78" width="53.94" height="9.6" rx="3.9" ry="4.8"/><rect x="220" y="713.83" width="37.95" height="9.6" rx="3.9" ry="4.8"/><rect x="220" y="701.78" width="37.95" height="9.6" rx="3.9" ry="4.8"/><rect x="262.95" y="713.83" width="7.99" height="9.6" rx="3.9" ry="4.8"/><ellipse cx="317.88" cy="706.58" rx="3.9" ry="4.8"/><rect x="220" y="725.88" width="8.99" height="9.6" rx="3.9" ry="4.8"/><rect x="233.08" y="725.88" width="7.8" height="9.6" rx="3.9" ry="4.8"/><rect x="249.56" y="725.88" width="7.8" height="9.6" rx="3.9" ry="4.8"/><ellipse cx="223" cy="742.73" rx="3.9" ry="4.8"/><ellipse cx="236.38" cy="742.73" rx="3.9" ry="4.8"/><ellipse cx="249.96" cy="742.73" rx="3.9" ry="4.8"/><ellipse cx="263.95" cy="742.73" rx="3.9" ry="4.8"/><ellipse cx="375.99" cy="574" rx="3.9" ry="4.8"/><ellipse cx="408.55" cy="574" rx="3.9" ry="4.8"/><rect x="370" y="617.41" width="7.99" height="9.6" rx="3.9" ry="4.8"/><rect x="370" y="605.36" width="7.99" height="9.6" rx="3.9" ry="4.8"/><rect x="370" y="593.3" width="7.99" height="9.6" rx="3.9" ry="4.8"/><rect x="370" y="581.25" width="7.99" height="9.6" rx="3.9" ry="4.8"/><ellipse cx="402.96" cy="586.05" rx="3.9" ry="4.8"/><ellipse cx="417.34" cy="586.05" rx="3.9" ry="4.8"/><rect x="403.96" y="593.3" width="14.98" height="9.6" rx="3.9" ry="4.8"/><rect x="393.97" y="605.36" width="15.98" height="9.6" rx="3.9" ry="4.8"/><rect x="412.04" y="617.41" width="7.8" height="9.6" rx="3.9" ry="4.8"/><rect x="412.04" y="605.36" width="7.8" height="9.6" rx="3.9" ry="4.8"/><rect x="412.04" y="593.3" width="7.8" height="9.6" rx="3.9" ry="4.8"/><rect x="402.56" y="605.36" width="7.8" height="9.6" rx="3.9" ry="4.8"/><rect x="402.56" y="593.3" width="7.8" height="9.6" rx="3.9" ry="4.8"/><rect x="370" y="617.41" width="25.97" height="9.6" rx="3.9" ry="4.8"/><rect x="398.97" y="617.41" width="8.99" height="9.6" rx="3.9" ry="4.8"/><rect x="412.95" y="617.41" width="11.99" height="9.6" rx="3.9" ry="4.8"/><rect x="381.99" y="641.51" width="13.98" height="9.6" rx="3.9" ry="4.8"/><rect x="381.99" y="629.46" width="13.98" height="9.6" rx="3.9" ry="4.8"/><ellipse cx="399.96" cy="658.37" rx="3.9" ry="4.8"/><rect x="368.6" y="641.51" width="7.8" height="9.6" rx="3.9" ry="4.8"/><ellipse cx="386.38" cy="658.37" rx="3.9" ry="4.8"/><rect x="421.94" y="641.51" width="11.99" height="9.6" rx="3.9" ry="4.8"/><rect x="421.94" y="629.46" width="11.99" height="9.6" rx="3.9" ry="4.8"/><rect x="430.93" y="677.67" width="8.39" height="9.6" rx="3.9" ry="4.8"/><rect x="430.93" y="665.62" width="8.39" height="9.6" rx="3.9" ry="4.8"/><rect x="430.93" y="653.57" width="8.39" height="9.6" rx="3.9" ry="4.8"/><ellipse cx="444.31" cy="682.47" rx="3.9" ry="4.8"/><ellipse cx="452.9" cy="682.47" rx="3.9" ry="4.8"/><ellipse cx="485.46" cy="682.47" rx="3.9" ry="4.8"/><rect x="437.92" y="713.83" width="10.99" height="9.6" rx="3.9" ry="4.8"/><rect x="437.92" y="701.78" width="10.99" height="9.6" rx="3.9" ry="4.8"/><rect x="437.92" y="689.72" width="10.99" height="9.6" rx="3.9" ry="4.8"/><rect x="448.5" y="713.83" width="7.8" height="9.6" rx="3.9" ry="4.8"/><ellipse cx="483.86" cy="694.52" rx="3.9" ry="4.8"/><ellipse cx="471.88" cy="718.63" rx="3.9" ry="4.8"/><ellipse cx="481.87" cy="718.63" rx="3.9" ry="4.8"/><rect x="446.91" y="725.88" width="13.98" height="9.6" rx="3.9" ry="4.8"/><rect x="463.89" y="725.88" width="11.99" height="9.6" rx="3.9" ry="4.8"/><ellipse cx="480.87" cy="730.68" rx="3.9" ry="4.8"/><rect x="445.5" y="737.93" width="7.8" height="9.6" rx="3.9" ry="4.8"/><rect x="457.89" y="737.93" width="24.97" height="9.6" rx="3.9" ry="4.8"/><ellipse cx="461.1" cy="754.79" rx="3.9" ry="4.8"/><ellipse cx="469.31" cy="754.79" rx="3.9" ry="4.8"/><ellipse cx="459.84" cy="766.84" rx="3.9" ry="4.8"/><ellipse cx="468.3" cy="778.89" rx="3.9" ry="4.8"/><rect x="458.58" y="737.93" width="14.51" height="9.6" rx="3.9" ry="4.8"/></g>
<text class="tkb" text-anchor="end" transform="translate(67.5 516.9) scale(0.69 1)">1.0</text>
<text class="tkb" text-anchor="end" transform="translate(67.5 557.08) scale(0.69 1)">0.5</text>
<text class="tkb" text-anchor="end" transform="translate(67.5 597.25) scale(0.69 1)">0.0</text>
<text class="tkb" text-anchor="end" transform="translate(67.5 637.43) scale(0.69 1)">-0.5</text>
<text class="tkb" text-anchor="end" transform="translate(67.5 677.6) scale(0.69 1)">-1.0</text>
<text class="tkb" text-anchor="end" transform="translate(67.5 717.78) scale(0.69 1)">-1.5</text>
<text class="tkb" text-anchor="end" transform="translate(67.5 757.95) scale(0.69 1)">-2.0</text>
<text class="tkb" text-anchor="end" transform="translate(67.5 798.12) scale(0.69 1)">-2.5</text>
<text class="tkb" text-anchor="end" transform="translate(67.5 838.3) scale(0.69 1)">-3.0</text>
<text class="tkb" text-anchor="middle" transform="translate(76 864.7) scale(0.69 1)">0.0</text>
<text class="tkb" text-anchor="middle" transform="translate(121.51 864.7) scale(0.69 1)">0.1</text>
<text class="tkb" text-anchor="middle" transform="translate(167.02 864.7) scale(0.69 1)">0.2</text>
<text class="tkb" text-anchor="middle" transform="translate(212.53 864.7) scale(0.69 1)">0.3</text>
<text class="tkb" text-anchor="middle" transform="translate(258.04 864.7) scale(0.69 1)">0.4</text>
<text class="tkb" text-anchor="middle" transform="translate(303.56 864.7) scale(0.69 1)">0.5</text>
<text class="tkb" text-anchor="middle" transform="translate(349.07 864.7) scale(0.69 1)">0.6</text>
<text class="tkb" text-anchor="middle" transform="translate(394.58 864.7) scale(0.69 1)">0.7</text>
<text class="tkb" text-anchor="middle" transform="translate(440.09 864.7) scale(0.69 1)">0.8</text>
<text class="tkb" text-anchor="middle" transform="translate(485.6 864.7) scale(0.69 1)">0.9</text>
<text class="tt" style="font-size:34.4px" text-anchor="middle" transform="translate(280.6 896.5) scale(0.718 1)">Angular Displacement(°)</text>
<text class="tt" style="font-size:34.9px" text-anchor="middle" transform="translate(18.3 666.2) scale(0.675 1) rotate(-90)">Error(&quot;)</text>
<text class="cap" style="font-size:36.5px" text-anchor="middle" transform="translate(254 943.5) scale(0.95 1)">(b)</text>
</g>
<g id="pc">
<path d="M583.5 827.7h7.9M1014.6 827.7h-7.9M583.5 796.03h4.2M1014.6 796.03h-4.2M583.5 764.36h7.9M1014.6 764.36h-7.9M583.5 732.69h4.2M1014.6 732.69h-4.2M583.5 701.02h7.9M1014.6 701.02h-7.9M583.5 669.35h4.2M1014.6 669.35h-4.2M583.5 637.68h7.9M1014.6 637.68h-7.9M583.5 606.01h4.2M1014.6 606.01h-4.2M583.5 574.34h7.9M1014.6 574.34h-7.9M583.5 542.67h4.2M1014.6 542.67h-4.2M583.5 511h7.9M1014.6 511h-7.9M583.5 511v9.8M583.5 827.7v-9.8M610.27 511v5M610.27 827.7v-5M637.04 511v9.8M637.04 827.7v-9.8M663.81 511v5M663.81 827.7v-5M690.58 511v9.8M690.58 827.7v-9.8M717.34 511v5M717.34 827.7v-5M744.11 511v9.8M744.11 827.7v-9.8M770.88 511v5M770.88 827.7v-5M797.65 511v9.8M797.65 827.7v-9.8M824.42 511v5M824.42 827.7v-5M851.19 511v9.8M851.19 827.7v-9.8M877.96 511v5M877.96 827.7v-5M904.72 511v9.8M904.72 827.7v-9.8M931.49 511v5M931.49 827.7v-5M958.26 511v9.8M958.26 827.7v-9.8M985.03 511v5M985.03 827.7v-5M1011.8 511v9.8M1011.8 827.7v-9.8" stroke="#000" stroke-width="2.4" fill="none"/>
<rect x="583.5" y="511" width="431.1" height="316.7" fill="none" stroke="#000" stroke-width="3.2"/>
<path d="M583.5 827.7V827.7M637.04 827.7V668.72M690.58 827.7V553.12M744.11 827.7V711.15M797.65 827.7V639.2M851.19 827.7V698.23M904.72 827.7V779.31M958.26 827.7V787.42M1011.8 827.7V797.93" stroke="#2039ff" stroke-width="4.4" fill="none"/>
<g fill="#2039ff"><ellipse cx="583.5" cy="827.7" rx="8.2" ry="10.4"/><ellipse cx="637.04" cy="668.72" rx="8.2" ry="10.4"/><ellipse cx="690.58" cy="553.12" rx="8.2" ry="10.4"/><ellipse cx="744.11" cy="711.15" rx="8.2" ry="10.4"/><ellipse cx="797.65" cy="639.2" rx="8.2" ry="10.4"/><ellipse cx="851.19" cy="698.23" rx="8.2" ry="10.4"/><ellipse cx="904.72" cy="779.31" rx="8.2" ry="10.4"/><ellipse cx="958.26" cy="787.42" rx="8.2" ry="10.4"/><ellipse cx="1011.8" cy="797.93" rx="8.2" ry="10.4"/></g>
<text class="tkc" text-anchor="end" transform="translate(574.2 521.8) scale(0.785 1)">0.5</text>
<text class="tkc" text-anchor="end" transform="translate(574.2 585.14) scale(0.785 1)">0.4</text>
<text class="tkc" text-anchor="end" transform="translate(574.2 648.48) scale(0.785 1)">0.3</text>
<text class="tkc" text-anchor="end" transform="translate(574.2 711.82) scale(0.785 1)">0.2</text>
<text class="tkc" text-anchor="end" transform="translate(574.2 775.16) scale(0.785 1)">0.1</text>
<text class="tkc" text-anchor="end" transform="translate(574.2 838.5) scale(0.785 1)">0.0</text>
<text class="tkc" text-anchor="middle" transform="translate(583.5 865.5) scale(0.785 1)">0</text>
<text class="tkc" text-anchor="middle" transform="translate(637.04 865.5) scale(0.785 1)">1</text>
<text class="tkc" text-anchor="middle" transform="translate(690.58 865.5) scale(0.785 1)">2</text>
<text class="tkc" text-anchor="middle" transform="translate(744.11 865.5) scale(0.785 1)">3</text>
<text class="tkc" text-anchor="middle" transform="translate(797.65 865.5) scale(0.785 1)">4</text>
<text class="tkc" text-anchor="middle" transform="translate(851.19 865.5) scale(0.785 1)">5</text>
<text class="tkc" text-anchor="middle" transform="translate(904.72 865.5) scale(0.785 1)">6</text>
<text class="tkc" text-anchor="middle" transform="translate(958.26 865.5) scale(0.785 1)">7</text>
<text class="tkc" text-anchor="middle" transform="translate(1011.8 865.5) scale(0.785 1)">8</text>
<text class="tt" style="font-size:34.5px" text-anchor="middle" transform="translate(799 897.2) scale(0.815 1)">Harmonic order</text>
<text class="tt" style="font-size:33.8px" text-anchor="middle" transform="translate(538.3 666.3) scale(0.805 1) rotate(-90)">Amplitude(&quot;)</text>
<text class="cap" style="font-size:36.5px" text-anchor="middle" transform="translate(789.7 943.5) scale(0.97 1)">(c)</text>
</g>
</svg>
</body></html>
